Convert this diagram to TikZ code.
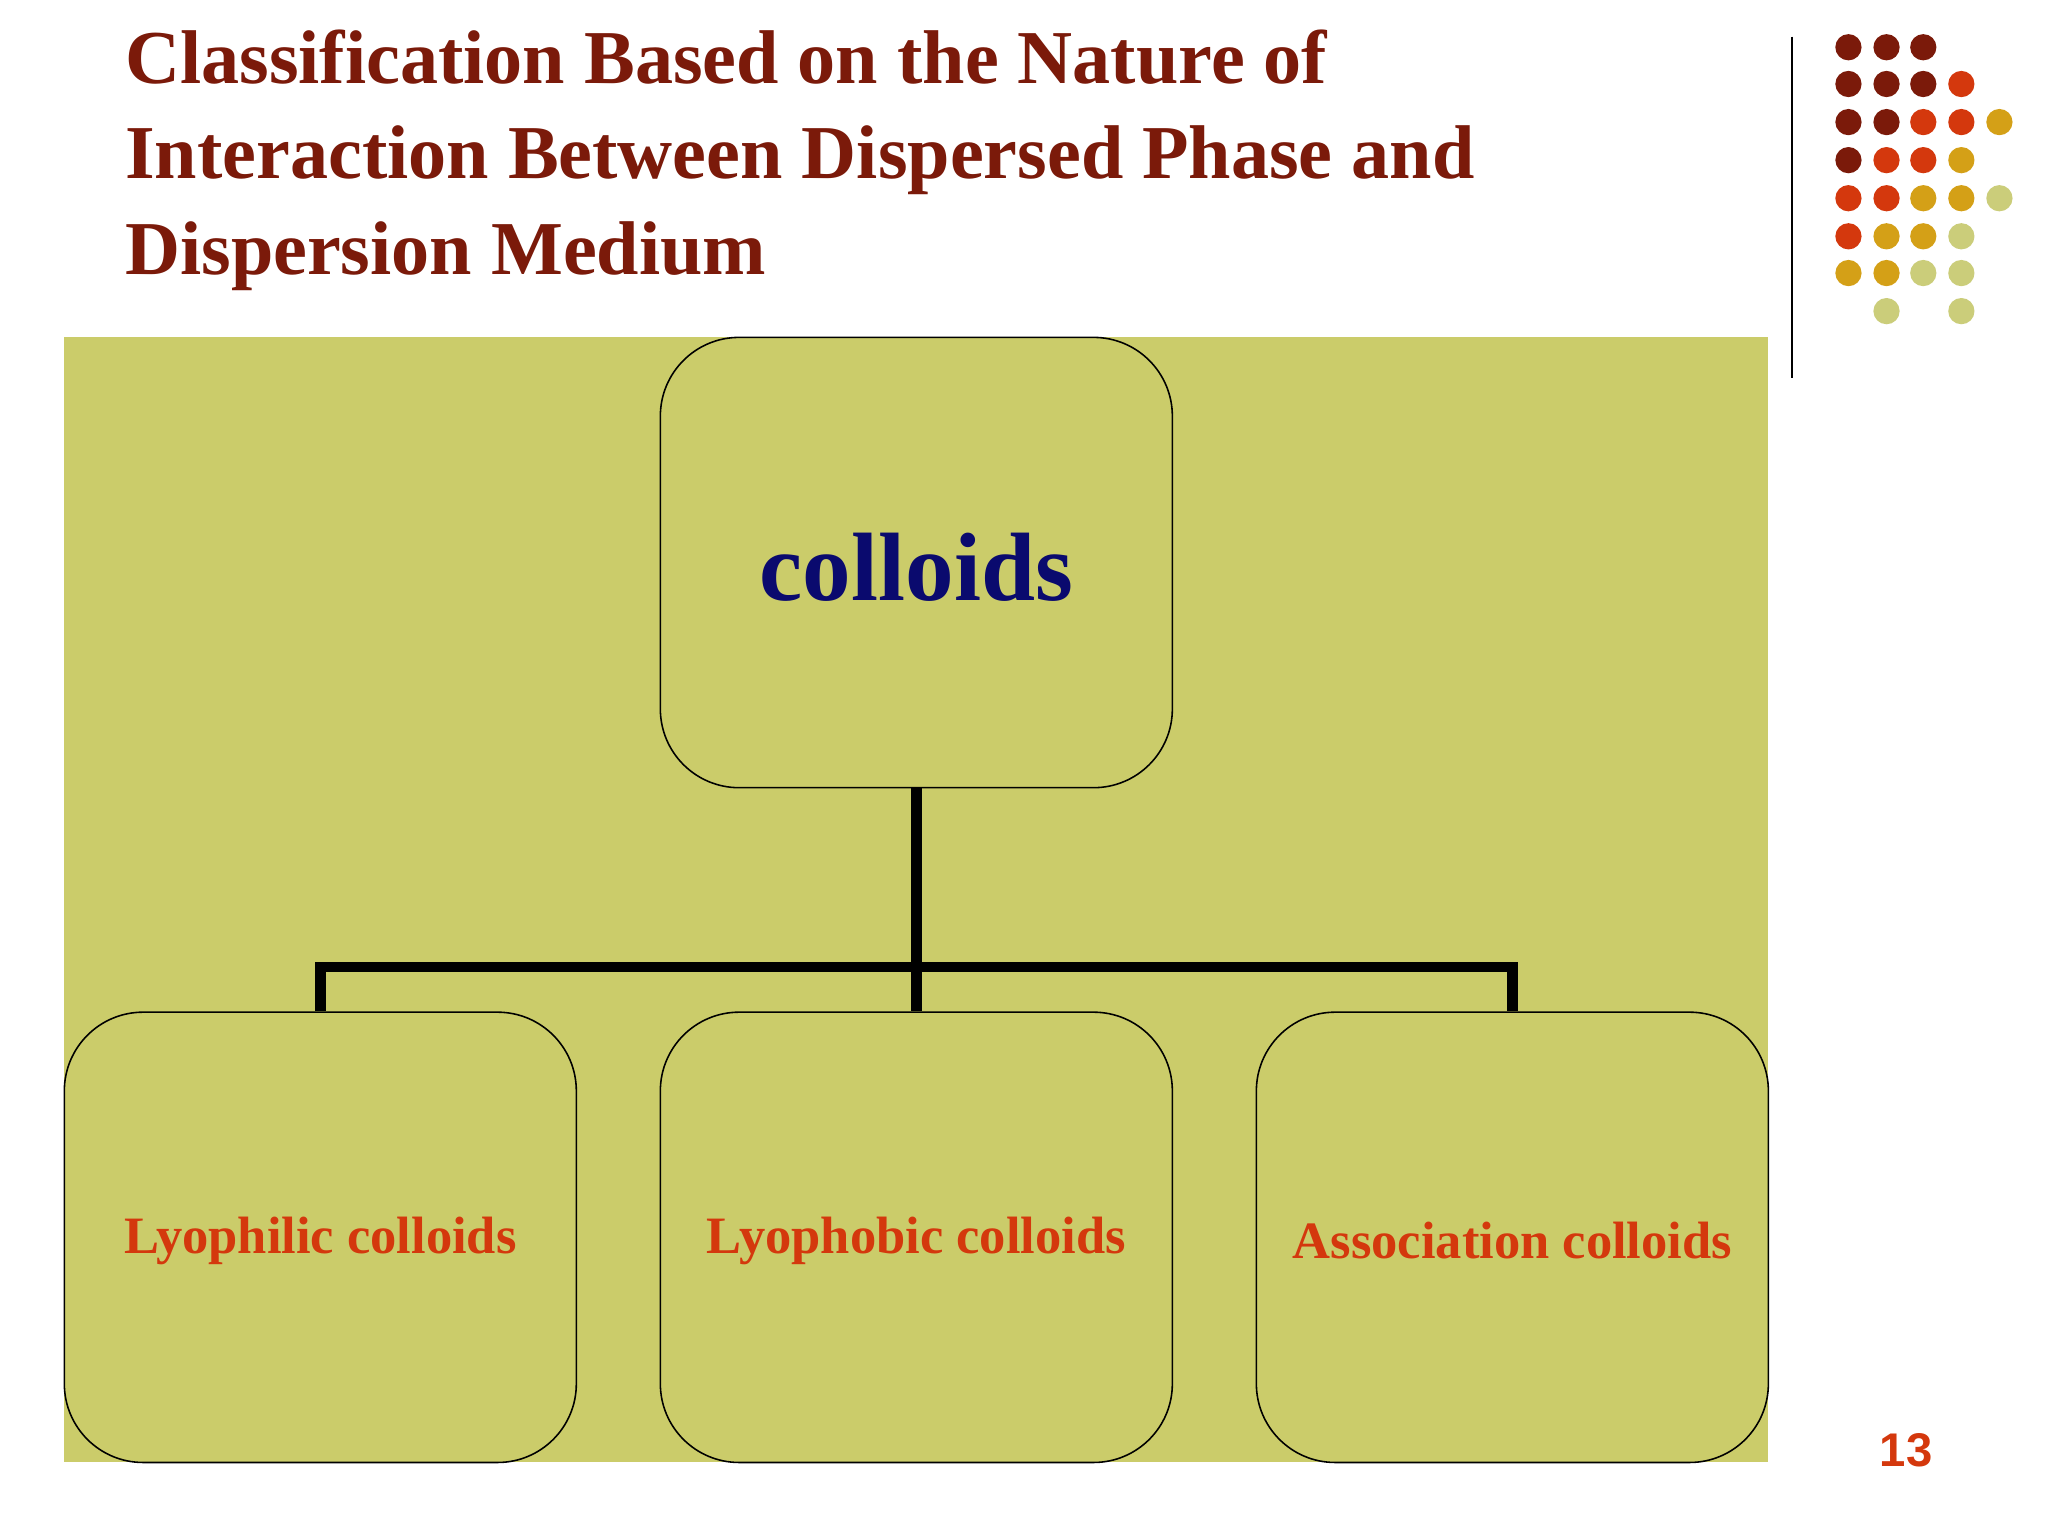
\documentclass[tikz,border=0pt]{standalone}
\usepackage{fontspec}
\setmainfont{Liberation Serif}
\newfontfamily\sansf{Liberation Sans}
\definecolor{dred}{HTML}{7B1A0A}
\definecolor{orng}{HTML}{D4380D}
\definecolor{gld}{HTML}{D4A017}
\definecolor{lgt}{HTML}{CBCD7A}
\definecolor{olive}{HTML}{CBCC6A}
\definecolor{navy}{HTML}{0A0A6E}
\tikzset{
 box/.style={draw=black,line width=0.6pt,fill=olive,rounded corners=30pt,minimum width=195pt,minimum height=171.5pt,inner sep=0pt},
 lbl/.style={text=orng,font=\bfseries\fontsize{20}{24}\selectfont},
 conn/.style={line width=4pt,draw=black},
 dot/.style={circle,inner sep=0pt,minimum size=10pt}
}
\begin{document}
\begin{tikzpicture}[x=0.5pt,y=-0.5pt]
\useasboundingbox (0,0) rectangle (1560,1170);
\fill[white] (0,0) rectangle (1560,1170);
\node[anchor=north west,align=left,text=dred,font=\bfseries\fontsize{29}{36.5}\selectfont,inner sep=0pt] (title) at (95,22)
 {Classification Based on the Nature of\\Interaction Between Dispersed Phase and\\Dispersion Medium};
\draw[line width=1pt] (1365,28) coordinate (v1) -- (1365,288) coordinate (v2);
\foreach \x/\y/\c in {1408/36/dred,1437/36/dred,1465/36/dred,
 1408/64/dred,1437/64/dred,1465/64/dred,1494/64/orng,
 1408/93/dred,1437/93/dred,1465/93/orng,1494/93/orng,1523/93/gld,
 1408/122/dred,1437/122/orng,1465/122/orng,1494/122/gld,
 1408/151/orng,1437/151/orng,1465/151/gld,1494/151/gld,1523/151/lgt,
 1408/180/orng,1437/180/gld,1465/180/gld,1494/180/lgt,
 1408/208/gld,1437/208/gld,1465/208/lgt,1494/208/lgt,
 1437/237/lgt,1494/237/lgt}
 \node[dot,fill=\c] at (\x,\y) {};
\fill[olive] (49,257) rectangle (1347,1114);
\node[box] (top) at (698,428.5) {};
\node[text=navy,font=\bfseries\fontsize{37}{44}\selectfont] at (698,432) {colloids};
\node[box] (b1) at (244,942.5) {};
\node[box] (b2) at (698,942.5) {};
\node[box] (b3) at (1152,942.5) {};
\node[lbl] at (244,945) {Lyophilic colloids};
\node[lbl] at (698,945) {Lyophobic colloids};
\node[lbl] at (1152,945) {Association colloids};
\draw[conn] (top.south) -- (b2.north);
\draw[conn] (b1.north) -- ++(0,-34) -| (b3.north);
\node[text=orng,font=\sansf\bfseries\fontsize{18}{20}\selectfont] (pg) at (1452,1105) {13};
\end{tikzpicture}
\end{document}
